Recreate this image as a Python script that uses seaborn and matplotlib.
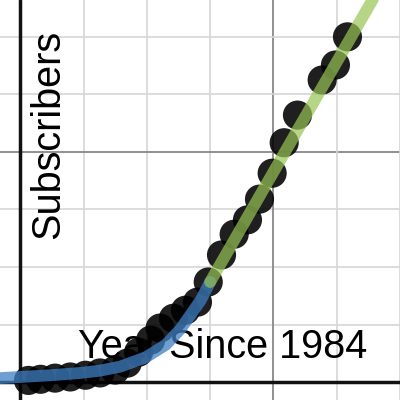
import matplotlib
matplotlib.use("Agg")
import matplotlib.pyplot as plt
import seaborn as sns
import numpy as np

sns.set_theme(style="white")
plt.rcParams["font.family"] = ["Liberation Sans", "DejaVu Sans"]

# observed points (years since 1984, subscribers)
years = [0.13, 0.32, 0.55, 0.79, 1.03, 1.26, 1.50, 1.69, 1.87, 2.06, 2.21, 2.42, 2.61,
         2.80, 2.97, 3.18, 3.38, 3.59, 3.78, 3.98, 4.17, 4.38, 4.77, 4.98, 5.17]
subs = [0.03, 0.05, 0.07, 0.09, 0.12, 0.16, 0.21, 0.33, 0.52, 0.73, 0.94, 1.11, 1.25,
        1.39, 1.74, 2.21, 2.57, 2.82, 3.18, 3.63, 4.16, 4.64, 5.25, 5.51, 6.00]

# early growth fit (sampled)
fit1_x = [-0.32, 0.0, 0.47, 0.95, 1.26, 1.58, 1.98, 2.3, 2.53, 2.85, 3.0]
fit1_y = [0.07, 0.09, 0.12, 0.16, 0.2, 0.27, 0.43, 0.65, 0.92, 1.42, 1.74]
# later linear fit
fit2_x = [3.0, 5.8]
fit2_y = [1.74, 7.09]

fig = plt.figure(figsize=(4, 4), dpi=100)
ax = fig.add_axes([0, 0, 1, 1])
ax.set_xlim(-0.32, 6.0)
ax.set_ylim(-0.31, 6.64)

for v in np.arange(-1, 8):
    c, lw = ("#888888", 1.3) if v % 4 == 0 else ("#d6d6d6", 1.2)
    ax.axvline(v, color=c, lw=lw, zorder=0)
    ax.axhline(v, color=c, lw=lw, zorder=0)
ax.axvline(0, color="#111111", lw=2.5, zorder=1)
ax.axhline(0, color="#111111", lw=2.5, zorder=1)

# labels sit under the data marks
ax.text(0.557, 0.105, "Year Since 1984", transform=ax.transAxes, ha="center", va="baseline",
        fontsize=28.5, color="black", zorder=1.5)
ax.text(0.12, 0.665, "Subscribers", transform=ax.transAxes, ha="center", va="center",
        rotation=90, fontsize=28.5, color="black", zorder=1.5)

sns.scatterplot(x=years, y=subs, color="black", s=440, alpha=0.88, edgecolor="none", ax=ax, zorder=2)
sns.lineplot(x=fit1_x, y=fit1_y, color="#3f7fc2", lw=8.5, alpha=0.75, ax=ax, zorder=3)
sns.lineplot(x=fit2_x, y=fit2_y, color="#98c453", lw=8.5, alpha=0.7, ax=ax, zorder=3)

ax.set_xticks([])
ax.set_yticks([])
for s in ax.spines.values():
    s.set_visible(False)

fig.savefig("out.png", dpi=100)
